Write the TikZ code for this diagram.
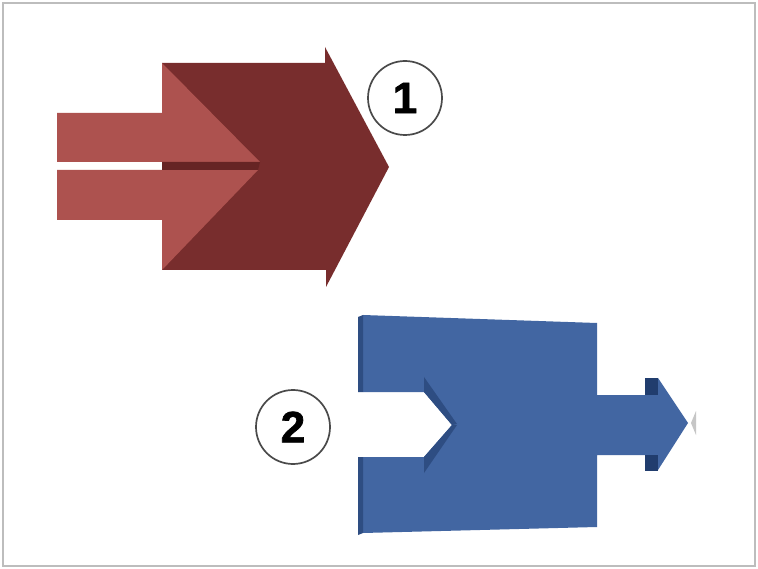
\documentclass[tikz,border=0pt]{standalone}
\usepackage{fontspec}
\setmainfont{Liberation Sans}
\newfontfamily\heavyfont[FakeBold=1.6]{Liberation Sans Bold}
\definecolor{darkred}{HTML}{782D2D}
\definecolor{lightred}{HTML}{AD524F}
\definecolor{stripered}{HTML}{662424}
\definecolor{faceblue}{HTML}{4266A2}
\definecolor{sideblue}{HTML}{2E4D82}
\definecolor{deepblue}{HTML}{213D6E}
\definecolor{framegray}{HTML}{BDBDBD}
\definecolor{ringgray}{HTML}{4A4A4A}
\tikzset{
  numcircle/.style={circle, draw=ringgray, line width=1.7pt, fill=white, minimum size=74pt, inner sep=0pt,
    font=\heavyfont\fontsize{44}{44}\selectfont, text=black},
}
\begin{document}
\begin{tikzpicture}[x=1pt,y=-1pt]
\useasboundingbox (0,0) rectangle (758,569);
\fill[white] (0,0) rectangle (758,569);
\draw[framegray, line width=2.2pt] (3,3) rectangle (755,566);

% ---- arrow 1 (red) ----
\fill[darkred] (162,63) -- (325,63) -- (325,47) -- (389,167) -- (326,287) -- (326,270) -- (162,270) -- cycle;
\fill[lightred] (57,113) -- (162,113) -- (162,63) -- (260,162) -- (57,162) -- cycle;
\fill[lightred] (57,170) -- (258,170) -- (162,270) -- (162,220) -- (57,220) -- cycle;
\fill[stripered] (162,162) -- (260,162) -- (258,170) -- (162,170) -- cycle;
\node[numcircle] (n1) at (405,98) {1};

% ---- arrow 2 (blue) ----
\fill[faceblue] (363,315) -- (597,323) -- (597,395) -- (658,395) -- (658,378) -- (688,423)
  -- (658,470) -- (658,455) -- (597,455) -- (597,527) -- (363,533) -- (363,457)
  -- (424,457) -- (452,425) -- (424,392) -- (363,392) -- cycle;
% side faces
\fill[sideblue] (358,317) -- (363,315) -- (363,392) -- (358,392) -- cycle;
\fill[sideblue] (358,457) -- (363,457) -- (363,533) -- (358,535) -- cycle;
\fill[sideblue] (424,377) -- (457,424) -- (452,425) -- (424,392) -- cycle;
\fill[sideblue] (424,457) -- (452,425) -- (457,425) -- (424,473) -- cycle;
\fill[deepblue] (645,378) -- (658,378) -- (658,395) -- (645,395) -- cycle;
\fill[deepblue] (645,455) -- (658,455) -- (658,471) -- (645,471) -- cycle;
\fill[gray!45] (691,423) -- (696,411) -- (696,435) -- cycle;
\node[numcircle] (n2) at (293,427) {2};
\end{tikzpicture}
\end{document}
